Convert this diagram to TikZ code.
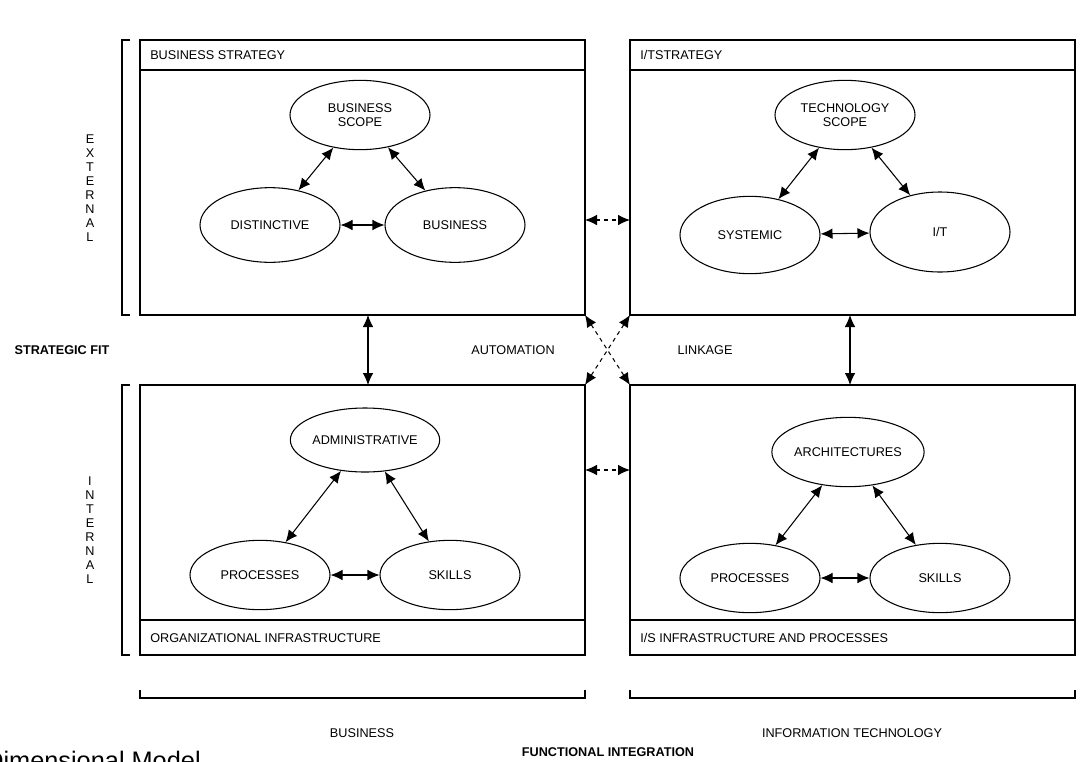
\documentclass[tikz,border=0pt]{standalone}
\usepackage{fontspec}
\setmainfont{Liberation Sans}
\usetikzlibrary{shapes.geometric,arrows.meta}
\begin{document}
\begin{tikzpicture}[x=0.75pt,y=-0.75pt,
    lbl/.style={font=\fontsize{9.5}{10.5}\selectfont, inner sep=0pt},
    oval/.style={ellipse, draw, thick, lbl, align=center},
    dbl/.style={{Latex[length=9pt,width=8pt]}-{Latex[length=9pt,width=8pt]}, thick},
    dsh/.style={dbl, dashed}]
    % --- 枠 ---
    \useasboundingbox (0,0) rectangle (1082,761);
    \draw[thick] (140,40) rectangle (585,315);  \draw[thick] (140,70) -- (585,70);
    \draw[thick] (630,40) rectangle (1075,315); \draw[thick] (630,70) -- (1075,70);
    \draw[thick] (140,385) rectangle (585,655); \draw[thick] (140,620) -- (585,620);
    \draw[thick] (630,385) rectangle (1075,655);\draw[thick] (630,620) -- (1075,620);
    \node[lbl, anchor=west] at (150,55) {BUSINESS STRATEGY};
    \node[lbl, anchor=west] at (640,55) {I/TSTRATEGY};
    \node[lbl, anchor=west] at (150,638) {ORGANIZATIONAL INFRASTRUCTURE};
    \node[lbl, anchor=west] at (640,638) {I/S INFRASTRUCTURE AND PROCESSES};

    % --- 楕円 ---
    \node[oval, minimum width=105pt, minimum height=52pt] (bscope) at (360,115) {BUSINESS\\SCOPE};
    \node[oval, minimum width=105pt, minimum height=56pt] (dist) at (270,225) {DISTINCTIVE};
    \node[oval, minimum width=105pt, minimum height=56pt] (bgov) at (455,225) {BUSINESS};
    \node[oval, minimum width=105pt, minimum height=52pt] (tscope) at (845,115) {TECHNOLOGY\\SCOPE};
    \node[oval, minimum width=105pt, minimum height=58pt] (syst) at (750,235) {SYSTEMIC};
    \node[oval, minimum width=105pt, minimum height=60pt] (itgov) at (940,232) {I/T};
    \node[oval, minimum width=112pt, minimum height=48pt] (admin) at (365,440) {ADMINISTRATIVE};
    \node[oval, minimum width=105pt, minimum height=52pt] (bproc) at (260,575) {PROCESSES};
    \node[oval, minimum width=105pt, minimum height=52pt] (bskill) at (450,575) {SKILLS};
    \node[oval, minimum width=105pt, minimum height=52pt] (arch) at (848,452) {ARCHITECTURES};
    \node[oval, minimum width=105pt, minimum height=52pt] (iproc) at (750,578) {PROCESSES};
    \node[oval, minimum width=105pt, minimum height=52pt] (iskill) at (940,578) {SKILLS};

    % --- 矢印 ---
    \draw[dbl] (bscope) -- (dist);  \draw[dbl] (bscope) -- (bgov);  \draw[dbl] (dist) -- (bgov);
    \draw[dbl] (tscope) -- (syst);  \draw[dbl] (tscope) -- (itgov); \draw[dbl] (syst) -- (itgov);
    \draw[dbl] (admin) -- (bproc);  \draw[dbl] (admin) -- (bskill); \draw[dbl] (bproc) -- (bskill);
    \draw[dbl] (arch) -- (iproc);   \draw[dbl] (arch) -- (iskill);  \draw[dbl] (iproc) -- (iskill);

    \coordinate (tlb) at (368,315); \coordinate (blt) at (368,385);
    \coordinate (trb) at (850,315); \coordinate (brt) at (850,385);
    \coordinate (tlr) at (585,220); \coordinate (trl) at (630,220);
    \coordinate (blr) at (585,470); \coordinate (brl) at (630,470);
    \coordinate (tlc) at (585,315); \coordinate (trc) at (630,315);
    \coordinate (blc) at (585,385); \coordinate (brc) at (630,385);
    \draw[dbl] (tlb) -- (blt);
    \draw[dbl] (trb) -- (brt);
    \draw[dsh] (tlr) -- (trl);
    \draw[dsh] (blr) -- (brl);
    \draw[dsh] (tlc) -- (brc);
    \draw[dsh] (trc) -- (blc);

    \node[lbl] at (513,350) {AUTOMATION};
    \node[lbl] at (705,350) {LINKAGE};
    \node[lbl, font=\fontsize{9.5}{10.5}\selectfont\bfseries] at (62,350) {STRATEGIC FIT};

    % --- 括弧 ---
    \draw[thick] (130,40) -- (122,40) -- (122,315) -- (130,315);
    \draw[thick] (130,385) -- (122,385) -- (122,655) -- (130,655);
    \draw[thick] (140,690) -- (140,698) -- (585,698) -- (585,690);
    \draw[thick] (630,690) -- (630,698) -- (1075,698) -- (1075,690);
    \node[lbl, align=center] at (90,188) {E\\X\\T\\E\\R\\N\\A\\L};
    \node[lbl, align=center] at (90,530) {I\\N\\T\\E\\R\\N\\A\\L};
    \node[lbl] at (362,733) {BUSINESS};
    \node[lbl] at (852,733) {INFORMATION TECHNOLOGY};
    \node[lbl, font=\fontsize{9.5}{10.5}\selectfont\bfseries] at (608,752) {FUNCTIONAL INTEGRATION};
    \node[anchor=base west, inner sep=0pt, font=\fontsize{19}{21}\selectfont] at (-15,769) {Dimensional Model};
\end{tikzpicture}
\end{document}
